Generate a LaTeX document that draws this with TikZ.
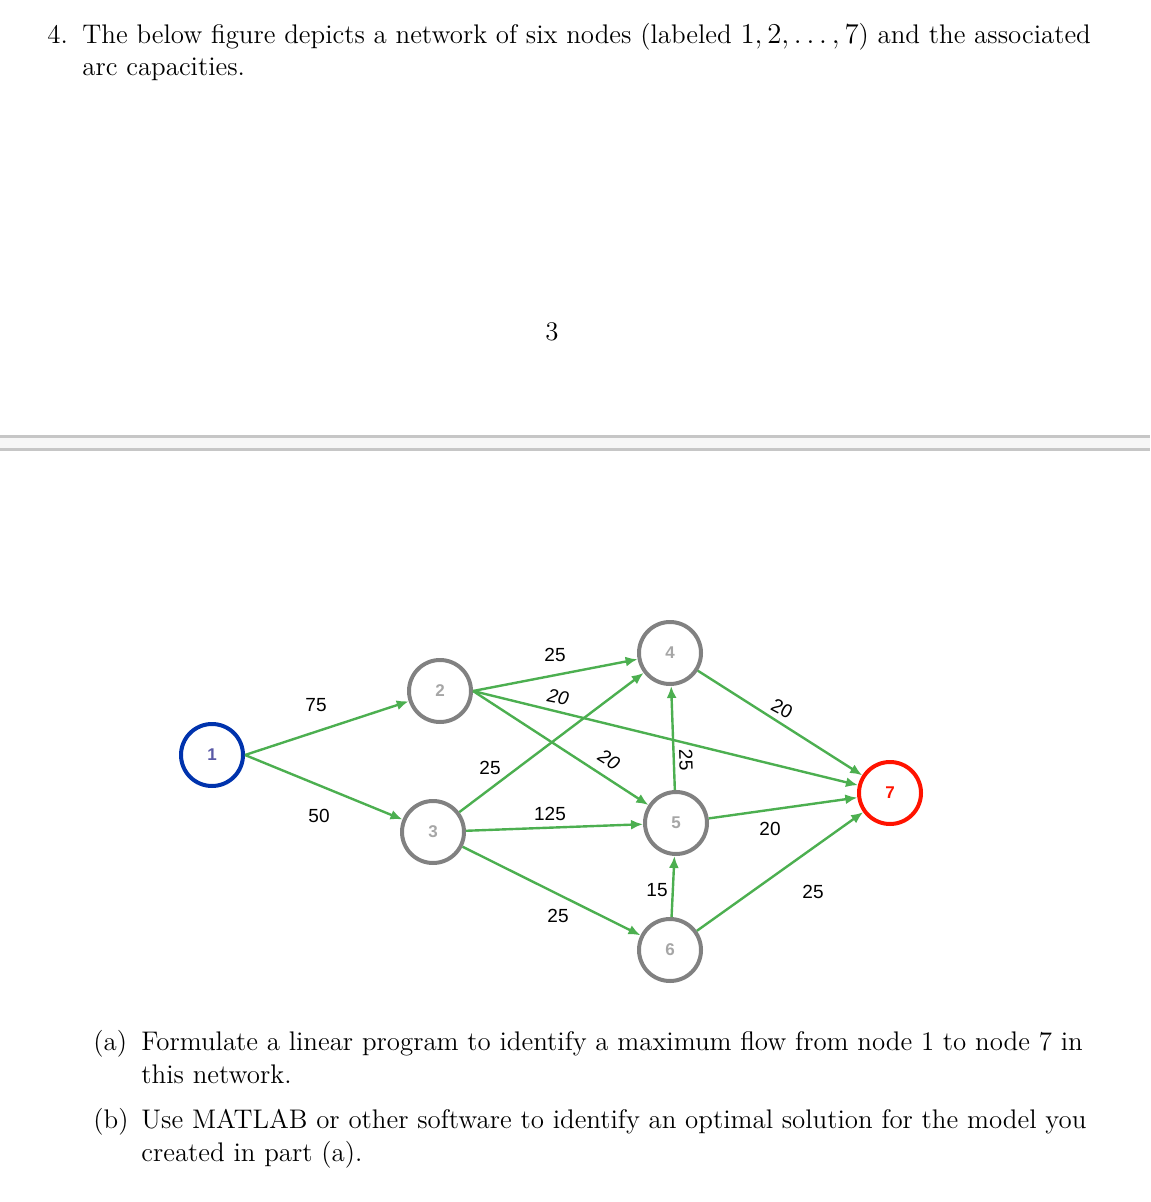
\documentclass[tikz,border=0pt]{standalone}
\usepackage{fontspec}
\usetikzlibrary{arrows.meta}
\newfontfamily\arial{Liberation Sans}
\begin{document}
\begin{tikzpicture}[x=0.5pt,y=-0.5pt,
  nd/.style={circle,draw=gray!90!black!90,line width=2pt,minimum size=31pt,inner sep=0pt,font=\arial\bfseries\fontsize{8.5}{9}\selectfont,text=gray!70},
  ed/.style={line width=1.2pt,-{Latex[length=6pt,width=5pt]}},
  lb/.style={font=\arial\fontsize{9.5}{10}\selectfont,inner sep=0pt},
  txt/.style={anchor=base west,inner sep=0pt,font=\fontsize{13.45}{16}\selectfont}]
\useasboundingbox (0,0) rectangle (1150,1202);
\definecolor{eg}{RGB}{76,175,80}
\tikzset{ed/.append style={draw=eg,color=eg}}
% header text
\node[txt] (h1) at (47,44) {4.};
\node[txt] (h2) at (82,44) {The below figure depicts a network of six nodes (labeled $1,2,\ldots,7$) and the associated};
\node[txt] (h3) at (82,76) {arc capacities.};
\node[txt,anchor=base] (pg) at (552,341) {3};
% separator
\fill[gray!7] (0,437) rectangle (1150,450);
\draw[gray!45,line width=1.5pt] (0,437) -- (1150,437) (0,450) -- (1150,450);
% nodes
\node[nd,draw=blue!60!black!80!cyan] (n1) at (212,755) {\textcolor{gray!70!blue}{1}};
\node[nd] (n2) at (440,691) {2};
\node[nd] (n3) at (433,832) {3};
\node[nd] (n4) at (670,653) {4};
\node[nd] (n5) at (676,823) {5};
\node[nd] (n6) at (670,950) {6};
\node[nd,draw=red!85!orange] (n7) at (890,793) {\textcolor{red!85!orange}{7}};
% edges
\draw[ed] (n1.east) -- (n2);
\draw[ed] (n1.east) -- (n3);
\draw[ed] (n2.east) -- (n4);
\draw[ed] (n2.east) -- (n7);
\draw[ed] (n2.east) -- (n5);
\draw[ed] (n3) -- (n4);
\draw[ed] (n3) -- (n5);
\draw[ed] (n3) -- (n6);
\draw[ed] (n5) -- (n4);
\draw[ed] (n6) -- (n5);
\draw[ed] (n4) -- (n7);
\draw[ed] (n5) -- (n7);
\draw[ed] (n6) -- (n7);
% labels
\node[lb] (l12) at (316,705) {75};
\node[lb] (l13) at (319,816) {50};
\node[lb] (l24) at (555,655) {25};
\node[lb,rotate=-11,font=\arial\itshape\fontsize{9.5}{10}\selectfont] (l27) at (558,697) {20};
\node[lb,rotate=-32,font=\arial\itshape\fontsize{9.5}{10}\selectfont] (l25) at (609,760) {20};
\node[lb] (l34) at (490,768) {25};
\node[lb] (l35) at (550,814) {125};
\node[lb] (l36) at (558,916) {25};
\node[lb,rotate=-88] (l54) at (686,760) {25};
\node[lb,rotate=-28] (l47) at (782,709) {20};
\node[lb] (l57) at (770,829) {20};
\node[lb] (l65) at (657,890) {15};
\node[lb] (l67) at (813,892) {25};
% questions
\node[txt] (qa) at (93,1050) {(a)};
\node[txt] (qa1) at (141,1050) {Formulate a linear program to identify a maximum flow from node 1 to node 7 in};
\node[txt] (qa2) at (141,1083) {this network.};
\node[txt] (qb) at (93,1128) {(b)};
\node[txt] (qb1) at (141,1128) {Use MATLAB or other software to identify an optimal solution for the model you};
\node[txt] (qb2) at (141,1161) {created in part (a).};
\end{tikzpicture}
\end{document}
